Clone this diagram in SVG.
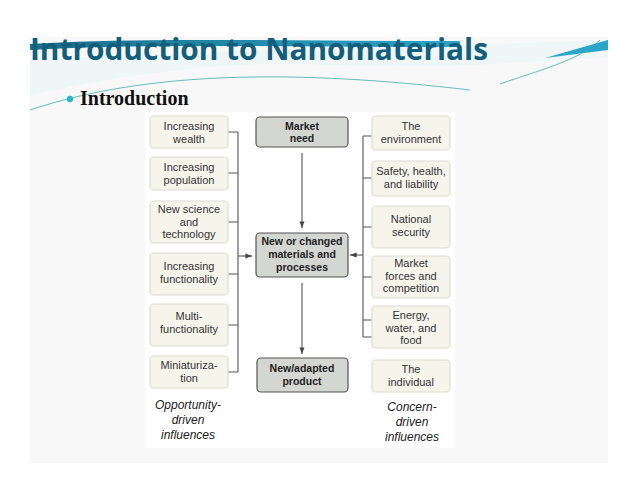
<svg xmlns="http://www.w3.org/2000/svg" width="638" height="493" viewBox="0 0 638 493">
<defs>
<marker id="ah" viewBox="0 0 8 8" refX="8" refY="4" markerWidth="6" markerHeight="6" orient="auto"><path d="M0,1 L8,4 L0,7 z" fill="#444"/></marker>
<linearGradient id="sw" x1="0" x2="1"><stop offset="0" stop-color="#1a6f8a"/><stop offset="1" stop-color="#2aa6c8"/></linearGradient>
</defs>
<style>
.b{fill:#f6f5ec;stroke:#dcdcd2;stroke-width:1.2}
.c{fill:#d4d6d2;stroke:#555;stroke-width:1.2}
.t{font-family:"Liberation Sans",Arial,sans-serif;font-size:11px;fill:#333;text-anchor:middle}
.tb{font-family:"Liberation Sans",Arial,sans-serif;font-size:10.5px;font-weight:bold;fill:#222;text-anchor:middle}
.ti{font-family:"Liberation Sans",Arial,sans-serif;font-size:12px;font-style:italic;fill:#222;text-anchor:middle}
.l{stroke:#555;stroke-width:1.1;fill:none}
</style>
<rect width="638" height="493" fill="#fff"/>
<rect x="30" y="37" width="578" height="426" fill="#f8f8f8"/>
<path d="M30,60 C200,50 300,52 470,45 L608,40 L608,58 C520,60 480,70 300,64 C200,62 100,80 30,95 Z" fill="#eef6f8"/>
<path d="M30,47 C150,40 300,44 460,44" stroke="url(#sw)" stroke-width="6" fill="none"/>
<path d="M545,58 L608,50 L608,40 Z" fill="#2aa6c8"/>
<path d="M30,110 C150,70 300,70 470,90" stroke="#4aa" stroke-width="0.8" fill="none"/>
<path d="M500,84 C540,70 580,60 600,40" stroke="#4aa" stroke-width="0.8" fill="none"/>
<text x="30" y="60" font-family="'Open Sans','Liberation Sans',sans-serif" font-size="30" font-weight="bold" fill="#135e7a" textLength="458" lengthAdjust="spacingAndGlyphs">Introduction to Nanomaterials</text>
<circle cx="70" cy="99" r="3.2" fill="#2bb7d0"/>
<text x="80" y="105" font-family="'Liberation Serif',serif" font-size="20" font-weight="bold" fill="#111">Introduction</text>
<rect x="145" y="112" width="310" height="336" fill="#fff"/>
<g id="connectors">
<path class="l" d="M228,132 H238 M228,173 H238 M228,222 H238 M228,274 H238 M228,325 H238 M228,372 H238 M238,132 V372"/>
<path class="l" d="M238,256 H252" marker-end="url(#ah)"/>
<path class="l" d="M372,136 H363 M372,178 H363 M372,227 H363 M372,277 H363 M372,320 H363 M372,337 H363 M363,136 V337"/>
<path class="l" d="M363,255 H350" marker-end="url(#ah)"/>
<path class="l" d="M302,153 V228" marker-end="url(#ah)"/>
<path class="l" d="M302,283 V354" marker-end="url(#ah)"/>
</g>
<g id="n1"><rect class="b" x="150" y="116" width="78" height="32" rx="4"/><text class="t" x="189" y="130">Increasing</text><text class="t" x="189" y="143">wealth</text></g>
<g id="n2"><rect class="b" x="150" y="157" width="78" height="33" rx="4"/><text class="t" x="189" y="171">Increasing</text><text class="t" x="189" y="184">population</text></g>
<g id="n3"><rect class="b" x="150" y="201" width="78" height="42" rx="4"/><text class="t" x="189" y="213">New science</text><text class="t" x="189" y="226">and</text><text class="t" x="189" y="238">technology</text></g>
<g id="n4"><rect class="b" x="150" y="253" width="78" height="42" rx="4"/><text class="t" x="189" y="270">Increasing</text><text class="t" x="189" y="283">functionality</text></g>
<g id="n5"><rect class="b" x="150" y="304" width="78" height="42" rx="4"/><text class="t" x="189" y="320">Multi-</text><text class="t" x="189" y="333">functionality</text></g>
<g id="n6"><rect class="b" x="150" y="356" width="78" height="32" rx="4"/><text class="t" x="189" y="369">Miniaturiza-</text><text class="t" x="189" y="382">tion</text></g>
<g id="c1"><rect class="c" x="256" y="117" width="92" height="30" rx="4"/><text class="tb" x="302" y="130">Market</text><text class="tb" x="302" y="142">need</text></g>
<g id="c2"><rect class="c" x="256" y="233" width="92" height="44" rx="4"/><text class="tb" x="302" y="245">New or changed</text><text class="tb" x="302" y="258">materials and</text><text class="tb" x="302" y="271">processes</text></g>
<g id="c3"><rect class="c" x="257" y="358" width="91" height="34" rx="4"/><text class="tb" x="302" y="372">New/adapted</text><text class="tb" x="302" y="385">product</text></g>
<g id="r1"><rect class="b" x="372" y="116" width="78" height="34" rx="4"/><text class="t" x="411" y="130">The</text><text class="t" x="411" y="143">environment</text></g>
<g id="r2"><rect class="b" x="372" y="161" width="78" height="35" rx="4"/><text class="t" x="411" y="175">Safety, health,</text><text class="t" x="411" y="188">and liability</text></g>
<g id="r3"><rect class="b" x="372" y="206" width="78" height="42" rx="4"/><text class="t" x="411" y="223">National</text><text class="t" x="411" y="236">security</text></g>
<g id="r4"><rect class="b" x="372" y="256" width="78" height="42" rx="4"/><text class="t" x="411" y="267">Market</text><text class="t" x="411" y="280">forces and</text><text class="t" x="411" y="292">competition</text></g>
<g id="r5"><rect class="b" x="372" y="306" width="78" height="42" rx="4"/><text class="t" x="411" y="319">Energy,</text><text class="t" x="411" y="332">water, and</text><text class="t" x="411" y="344">food</text></g>
<g id="r6"><rect class="b" x="372" y="360" width="78" height="32" rx="4"/><text class="t" x="411" y="373">The</text><text class="t" x="411" y="386">individual</text></g>
<g id="lab1"><text class="ti" x="188" y="409">Opportunity-</text><text class="ti" x="188" y="424">driven</text><text class="ti" x="188" y="439">influences</text></g>
<g id="lab2"><text class="ti" x="412" y="411">Concern-</text><text class="ti" x="412" y="426">driven</text><text class="ti" x="412" y="441">influences</text></g>
</svg>
